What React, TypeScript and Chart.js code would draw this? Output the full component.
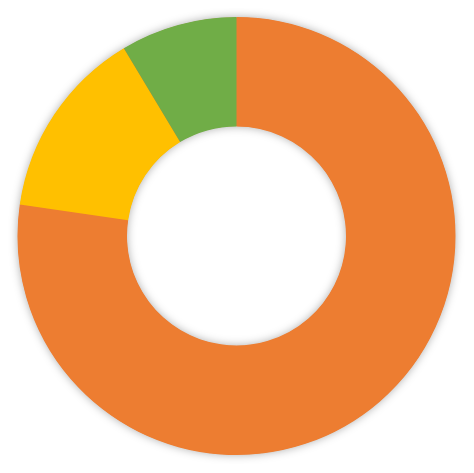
import React, { useEffect, useRef } from "react";
import { Chart, registerables } from "chart.js";

Chart.register(...registerables);

const categories = ["A", "B", "C"];
const values = [77.3, 14.1, 8.6];
const colors = ["#ED7D31", "#FFC000", "#70AD47"];

const shadowPlugin = {
  id: "ringShadow",
  beforeDatasetsDraw(chart: any) {
    const meta = chart.getDatasetMeta(0);
    const arc = meta.data[0];
    if (!arc) return;
    const { x, y, innerRadius, outerRadius } = arc.getProps(["x", "y", "innerRadius", "outerRadius"], true);
    const ctx = chart.ctx;
    ctx.save();
    ctx.shadowColor = "rgba(0,0,0,0.35)";
    ctx.shadowBlur = 10;
    ctx.fillStyle = "#ED7D31";
    ctx.beginPath();
    ctx.arc(x, y, outerRadius - 0.5, 0, Math.PI * 2);
    ctx.moveTo(x + innerRadius + 0.5, y);
    ctx.arc(x, y, innerRadius + 0.5, 0, Math.PI * 2, true);
    ctx.fill("evenodd");
    ctx.restore();
  },
};

export default function App() {
  const ref = useRef<HTMLCanvasElement>(null);
  useEffect(() => {
    const chart = new Chart(ref.current!, {
      type: "doughnut",
      data: {
        labels: categories,
        datasets: [
          {
            data: values,
            backgroundColor: colors,
            borderWidth: 0,
          },
        ],
      },
      options: {
        animation: false,
        responsive: true,
        maintainAspectRatio: false,
        cutout: "50%",
        layout: { padding: 9 },
        plugins: {
          legend: { display: false },
          tooltip: { enabled: false },
        },
      },
      plugins: [shadowPlugin],
    });
    return () => chart.destroy();
  }, []);
  return (
    <div style={{ width: 457, height: 456, position: "relative" }}>
      <canvas ref={ref} />
    </div>
  );
}
